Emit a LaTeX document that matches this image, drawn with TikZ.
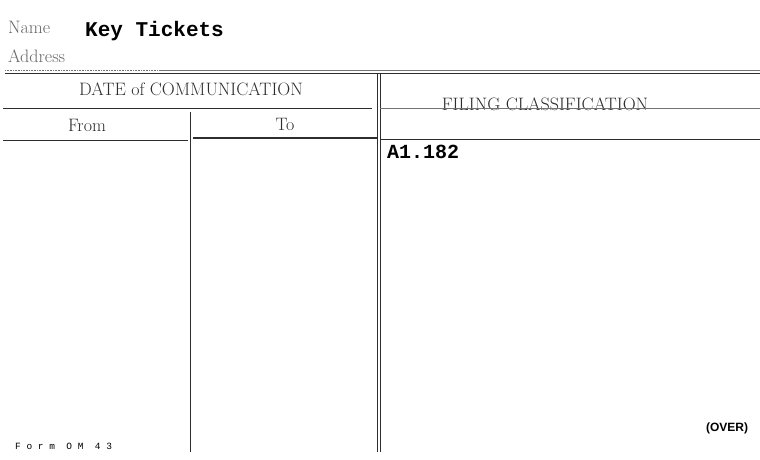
\documentclass[tikz,border=0pt]{standalone}
\usepackage{fontspec}
\setmonofont{Liberation Mono}
\newfontfamily\cardsans{Liberation Sans}
\usetikzlibrary{positioning}
\definecolor{InkColor}{RGB}{45,45,45}
\tikzset{
  rule/.style={InkColor, line width=0.9pt},
  faint/.style={black!55, line width=0.6pt},
  printed/.style={InkColor, font=\fontsize{18}{20}\selectfont},
  typed/.style={black, font=\ttfamily\bfseries\fontsize{20}{22}\selectfont}
}
\begin{document}
\begin{tikzpicture}[x=1pt, y=-1pt]
  \useasboundingbox (0,0) rectangle (760,460);
  % header
  \node[printed, black!60, anchor=west, inner sep=0pt] (name) at (8,27) {Name};
  \node[typed, font=\ttfamily\bfseries\fontsize{21}{23}\selectfont, anchor=west, inner sep=0pt] (who) at (85,31) {Key Tickets};
  \node[printed, black!60, anchor=west, inner sep=0pt] (addr) at (8,56) {Address};
  \draw[faint, densely dotted] (5,70) -- (160,70);
  \draw[faint] (160,70) -- (760,70);
  \draw[rule] (5,73) -- (760,73);
  % double divider
  \draw[rule] (377,73) -- (377,452);
  \draw[rule] (380,73) -- (380,452);
  % left block
  \node[printed] (date) at (191,89) {DATE of COMMUNICATION};
  \draw[rule] (3,108) -- (372,108);
  \node[printed] (from) at (87,125) {From};
  \node[printed] (to) at (285,124) {To};
  \draw[rule] (190,112) -- (190,452);
  \draw[rule] (3,140) -- (188,140);
  \draw[rule, line width=1.3pt] (193,138) -- (377,138);
  % right block
  \node[printed] (filing) at (545,104) {FILING CLASSIFICATION};
  \draw[faint] (380,108) -- (760,108);
  \draw[rule] (380,139) -- (760,139);
  \node[typed, anchor=west, inner sep=0pt] (code) at (387,152) {A1.182};
  % footer
  \node[font=\ttfamily\fontsize{9.5}{11}\selectfont, anchor=west, inner sep=0pt] (form) at (15,446) {F o r m \ O M \ 4 3};
  \node[font=\cardsans\bfseries\fontsize{12}{14}\selectfont] (over) at (727,428) {(OVER)};
\end{tikzpicture}
\end{document}
